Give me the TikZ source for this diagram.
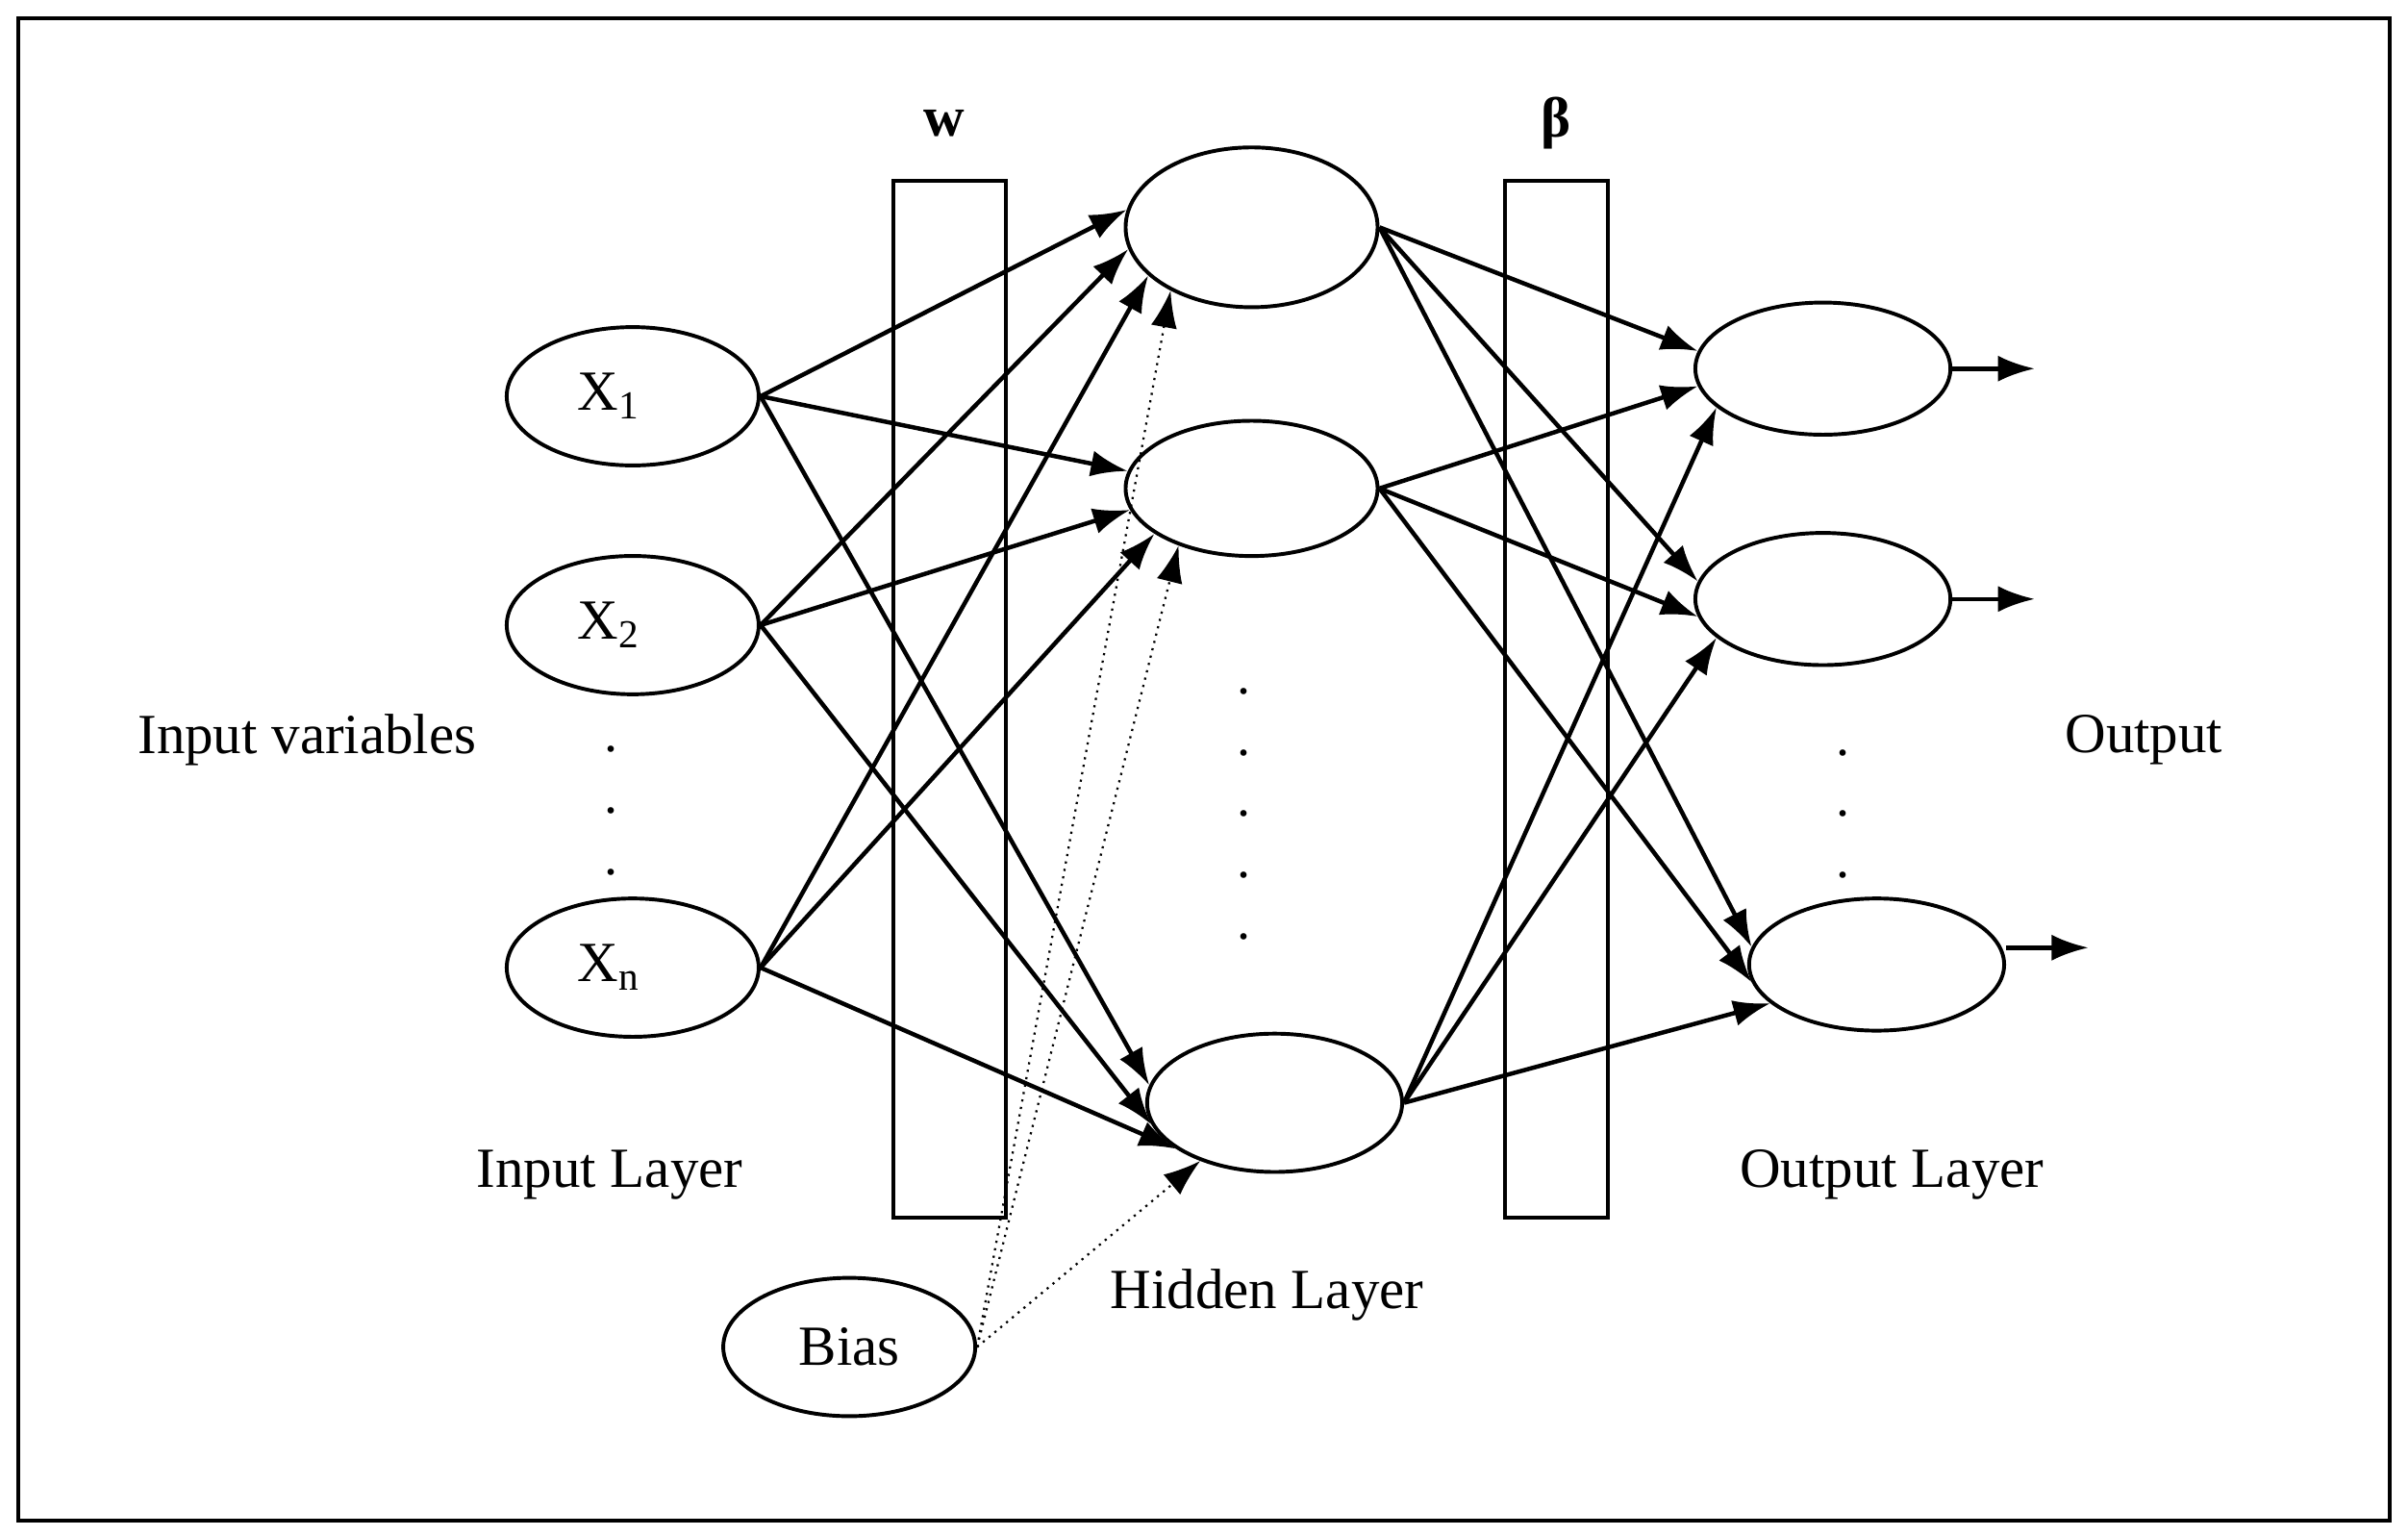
\documentclass[tikz,border=0pt]{standalone}
\usepackage{fontspec}
\setmainfont{Liberation Serif}
\usetikzlibrary{shapes.geometric,arrows.meta}
\begin{document}
\begin{tikzpicture}[x=0.01cm,y=-0.01cm,
  neuron/.style={ellipse,draw,line width=0.7pt,minimum width=1.64cm,minimum height=0.9cm,inner sep=0pt,font=\fontsize{10.5}{12}\selectfont},
  conn/.style={line width=0.8pt,-{Latex[length=0.24cm,width=0.17cm]}},
  biasconn/.style={line width=0.4pt,densely dotted,-{Latex[length=0.24cm,width=0.17cm]}},
  lab/.style={font=\fontsize{10.5}{12}\selectfont},
  dot/.style={font=\fontsize{10}{12}\selectfont,inner sep=0pt}]
\useasboundingbox (0,0) rectangle (1568,1000);
\draw[line width=0.8pt] (12,12) rectangle (1556,990);
% weight boxes
\draw[line width=0.7pt] (582,118) rectangle (655,793);
\draw[line width=0.7pt] (980,118) rectangle (1047,793);
\node[font=\fontsize{10.5}{12}\selectfont\bfseries] (w) at (615,80) {w};
\node[font=\fontsize{10.5}{12}\selectfont\bfseries] (beta) at (1013,80) {β};
% nodes
\node[neuron] (x1) at (412,258) {\hspace*{-0.3cm}X\textsubscript{1}};
\node[neuron] (x2) at (412,407) {\hspace*{-0.3cm}X\textsubscript{2}};
\node[neuron] (xn) at (412,630) {\hspace*{-0.3cm}X\textsubscript{n}};
\node[neuron] (b) at (553,877) {Bias};
\node[neuron,minimum height=1.04cm] (h1) at (815,148) {};
\node[neuron,minimum height=0.88cm] (h2) at (815,318) {};
\node[neuron,minimum width=1.66cm] (h3) at (830,718) {};
\node[neuron,minimum width=1.66cm,minimum height=0.86cm] (o1) at (1187,240) {};
\node[neuron,minimum width=1.66cm,minimum height=0.86cm] (o2) at (1187,390) {};
\node[neuron,minimum width=1.66cm,minimum height=0.86cm] (o3) at (1222,628) {};
% labels
\node[lab] (iv) at (200,482) {Input variables};
\node[lab] (ou) at (1396,482) {Output};
\node[lab] (il) at (397,765) {Input Layer};
\node[lab] (hl) at (825,843) {Hidden Layer};
\node[lab] (ol) at (1232,765) {Output Layer};
% dots
\foreach \y in {488,528,568} \node[dot] at (398,\y) {.};
\foreach \y in {450,490,530,570,610} \node[dot] at (810,\y) {.};
\foreach \y in {490,530,570} \node[dot] at (1200,\y) {.};
% input to hidden
\foreach \i/\a in {x1/172,x2/190,xn/205}
  \foreach \h in {h1,h2,h3}
    \draw[conn] (\i.east) -- (\h.\a);
% bias
\foreach \h in {h1,h2,h3}
  \draw[biasconn] (b.east) -- (\h.218);
% hidden to output
\foreach \h/\a in {h1/172,h2/188,h3/200}
  \foreach \o in {o1,o2,o3}
    \draw[conn] (\h.east) -- (\o.\a);
% outputs
\coordinate (e1) at (1325,240);
\coordinate (e2) at (1325,390);
\coordinate (e3) at (1360,617);
\draw[conn] (o1.east) -- (e1);
\draw[conn] (o2.east) -- (e2);
\draw[conn] (o3.east |- e3) -- (e3);
\end{tikzpicture}
\end{document}
